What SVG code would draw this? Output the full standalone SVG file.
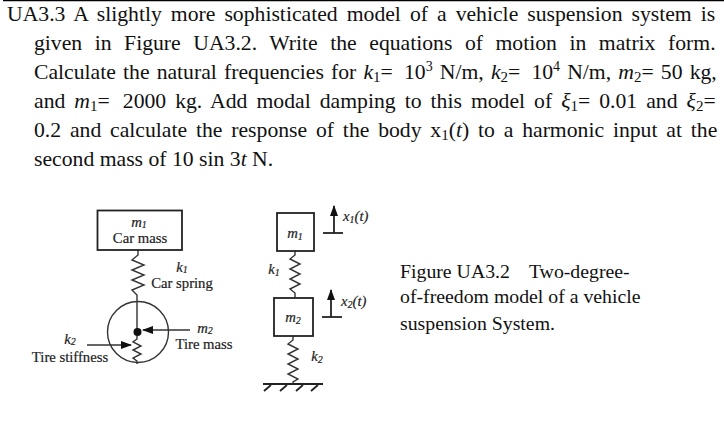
<svg xmlns="http://www.w3.org/2000/svg" width="724" height="432" viewBox="0 0 724 432">
<style>
.t{font-family:"Liberation Serif","Times New Roman",serif;font-size:21.7px;fill:#111}
.i{font-style:italic}
.l{font-family:"Liberation Serif",serif;font-size:14.7px;fill:#222;stroke:#222;stroke-width:.2}
.f{font-family:"Liberation Serif",serif;font-size:19.8px;fill:#111}
.b{fill:none;stroke:#222;stroke-width:1.8}
.s{fill:none;stroke:#333;stroke-width:1.4}
</style>
<defs>
<marker id="a" viewBox="0 0 11 8" refX="10" refY="4" markerWidth="11" markerHeight="8" markerUnits="userSpaceOnUse" orient="auto"><path d="M0,0L11,4L0,8z" fill="#111"/></marker>
</defs>
<rect width="724" height="432" fill="#fff"/>
<path d="M3,0.500H724" stroke="#000" stroke-width="1.500"/>
<g id="problem-text">
<text class="t" x="7" y="21" word-spacing="3.6">UA3.3 A slightly more sophisticated model of a vehicle suspension system is</text>
<text class="t" x="34" y="50" word-spacing="7.1">given in Figure UA3.2. Write the equations of motion in matrix form.</text>
<text class="t" x="34" y="79" word-spacing="1.700">Calculate the natural frequencies for <tspan class="i">k</tspan><tspan font-size="15" dy="3">1</tspan><tspan dy="-3">= </tspan><tspan dx="4">10</tspan><tspan font-size="14" dy="-8">3</tspan><tspan dy="8"> N/m, </tspan><tspan class="i">k</tspan><tspan font-size="15" dy="3">2</tspan><tspan dy="-3">= </tspan><tspan dx="4">10</tspan><tspan font-size="14" dy="-8">4</tspan><tspan dy="8"> N/m, </tspan><tspan class="i">m</tspan><tspan font-size="15" dy="3">2</tspan><tspan dy="-3">= 50 kg,</tspan></text>
<text class="t" x="34" y="108" word-spacing="3.6">and <tspan class="i">m</tspan><tspan font-size="15" dy="3">1</tspan><tspan dy="-3">= </tspan><tspan dx="4">2000 kg. Add modal damping to this model of </tspan><tspan class="i">ξ</tspan><tspan font-size="15" dy="3">1</tspan><tspan dy="-3">= 0.01 and </tspan><tspan class="i">ξ</tspan><tspan font-size="15" dy="3">2</tspan><tspan dy="-3">=</tspan></text>
<text class="t" x="34" y="137" word-spacing="3.4">0.2 and calculate the response of the body x<tspan font-size="15" dy="3">1</tspan><tspan dy="-3">(</tspan><tspan class="i">t</tspan>) to a harmonic input at the</text>
<text class="t" x="34" y="166">second mass of 10 sin 3<tspan class="i">t</tspan> N.</text>
</g>
<g id="connectors">
<path class="s" d="M138,250V255L132,260L144,265L132,270L144,275L132,280L144,285L132,290L137,295V331"/>
<path class="s" d="M137,335V339L133,342L141,346L133,350L141,354L133,358L137,361V364"/>
<path class="s" d="M87,345H131" marker-end="url(#a)"/>
<path class="s" d="M190,330H143" marker-end="url(#a)"/>
<path class="s" d="M295,251V255L290,259L300,264L290,269L300,274L290,279L300,284L290,289L295,293V298"/>
<path class="s" d="M293,336V340L288,344L298,349L288,354L298,359L288,364L298,369L288,374L298,379L293,382V384"/>
<path class="b" d="M334,233V206" marker-end="url(#a)"/>
<path class="b" d="M323,233H343"/>
<path class="b" d="M331,317V290" marker-end="url(#a)"/>
<path class="b" d="M322,317H342"/>
<path class="b" d="M263,384H323M264,391L271,385M280,391L287,385M296,391L303,385M311,391L318,385"/>
</g>
<g id="car-mass"><rect class="b" x="97.500" y="210.500" width="84.500" height="39.500"/>
<text class="l i" x="139" y="227" text-anchor="middle">m<tspan font-size="10" dy="1">1</tspan></text>
<text class="l" x="140" y="243" text-anchor="middle">Car mass</text></g>
<g id="car-spring"><text class="l i" x="182" y="272" text-anchor="middle">k<tspan font-size="10" dy="1">1</tspan></text>
<text class="l" x="182" y="288" text-anchor="middle">Car spring</text></g>
<g id="wheel"><circle class="s" cx="138" cy="332" r="30.500"/><circle cx="137.500" cy="332" r="4" fill="#111"/></g>
<g id="tire-mass"><text class="l i" x="205" y="333" text-anchor="middle">m<tspan font-size="10" dy="1">2</tspan></text>
<text class="l" x="204" y="349" text-anchor="middle">Tire mass</text></g>
<g id="tire-stiffness"><text class="l i" x="70" y="344" text-anchor="middle">k<tspan font-size="10" dy="1">2</tspan></text>
<text class="l" x="70" y="362" text-anchor="middle">Tire stiffness</text></g>
<g id="m1"><rect class="b" x="277" y="213" width="37" height="38"/><text class="l i" x="295" y="238" text-anchor="middle">m<tspan font-size="10" dy="2">1</tspan></text></g>
<g id="m2"><rect class="b" x="274" y="298" width="39" height="38"/><text class="l i" x="293" y="322" text-anchor="middle">m<tspan font-size="10" dy="2">2</tspan></text></g>
<g id="k1"><text class="l i" x="274" y="274" text-anchor="middle">k<tspan font-size="10" dy="2">1</tspan></text></g>
<g id="k2"><text class="l i" x="317" y="361" text-anchor="middle">k<tspan font-size="10" dy="2">2</tspan></text></g>
<g id="x1"><text class="l i" x="343" y="221">x<tspan font-size="10" dy="2">1</tspan><tspan dy="-2">(t)</tspan></text></g>
<g id="x2"><text class="l i" x="341" y="306">x<tspan font-size="10" dy="2">2</tspan><tspan dy="-2">(t)</tspan></text></g>
<g id="caption">
<text class="f" x="400" y="278">Figure UA3.2<tspan dx="19">Two-degree-</tspan></text>
<text class="f" x="400" y="303">of-freedom model of a vehicle</text>
<text class="f" x="400" y="330">suspension System.</text>
</g>
</svg>
